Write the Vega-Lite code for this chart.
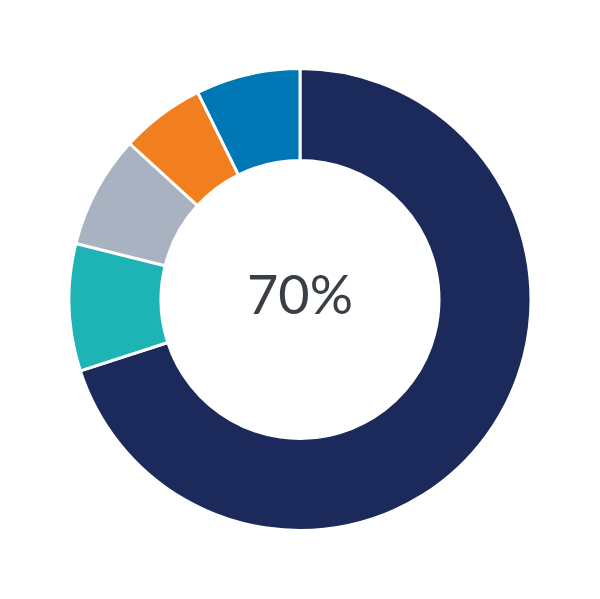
{
  "$schema": "https://vega.github.io/schema/vega-lite/v6.json",
  "width": 600,
  "height": 599,
  "autosize": {"type": "fit", "contains": "padding"},
  "padding": 0,
  "view": {"stroke": null},
  "background": "white",
  "layer": [
    {
      "data": {
        "values": [
          {"idx": 1, "segment": "A", "value": 70},
          {"idx": 2, "segment": "B", "value": 8.9},
          {"idx": 3, "segment": "C", "value": 7.9},
          {"idx": 4, "segment": "D", "value": 5.9},
          {"idx": 5, "segment": "E", "value": 7.3}
        ]
      },
      "mark": {"type": "arc", "outerRadius": 231, "innerRadius": 139, "stroke": "white", "strokeWidth": 3},
      "encoding": {
        "theta": {"field": "value", "type": "quantitative", "stack": true},
        "order": {"field": "idx", "type": "quantitative"},
        "color": {
          "field": "segment",
          "type": "nominal",
          "legend": null,
          "scale": {
            "domain": ["A", "B", "C", "D", "E"],
            "range": ["#1b2a5a", "#1eb4b6", "#a8b2c0", "#f17f20", "#0077b5"]
          }
        }
      }
    },
    {
      "data": {"values": [{"label": "70%"}]},
      "mark": {"type": "text", "font": "Lato", "fontWeight": 400, "fontSize": 54, "color": "#3a3f47", "align": "center", "baseline": "middle", "dy": -2},
      "encoding": {"text": {"field": "label"}}
    }
  ]
}
